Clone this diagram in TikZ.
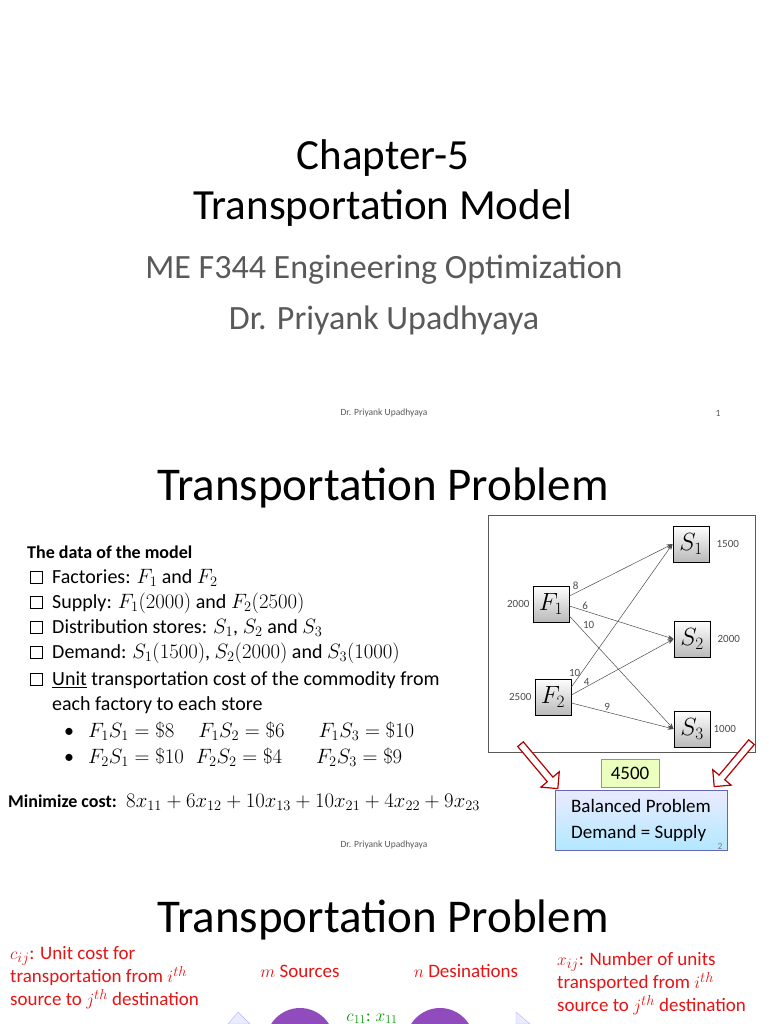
\documentclass[tikz,border=0pt]{standalone}
\usepackage{fontspec}
\setmainfont{Carlito}
\usetikzlibrary{arrows.meta,shapes.arrows,positioning}
\definecolor{sub}{RGB}{89,89,89}
\definecolor{redt}{RGB}{230,20,20}
\tikzset{
 px/.style={x=1pt,y=-1pt},
 gbox/.style={draw=black,thick,top color=white,bottom color=gray!55,minimum width=36pt,minimum height=36pt,inner sep=0pt,font=\fontsize{24}{24}\selectfont},
 foot/.style={font=\fontsize{9.5}{10}\selectfont,text=sub},
 edge/.style={draw=gray!60!black,-{Stealth[length=6pt]},line width=0.5pt},
 cost/.style={font=\fontsize{11}{12}\selectfont\rmfamily,text=gray!60!black,inner sep=1pt},
 hollow/.style={single arrow,draw=red!70!black,fill=white,line width=1.2pt,minimum height=58pt,minimum width=24pt,single arrow head extend=6pt,inner sep=2pt},
 bl/.style={font=\fontsize{20}{22}\selectfont,anchor=west,inner sep=0pt},
 redtxt/.style={text=redt,font=\fontsize{19}{23}\selectfont,align=left,inner sep=0pt}
}
\begin{document}
\begin{tikzpicture}[px]
\useasboundingbox (0,0) rectangle (768,1024);
\fill[white] (0,0) rectangle (768,1024);
% slide 1
\node (t1) at (383,158) {\fontsize{43}{46}\selectfont Chapter-5};
\node (t2) at (383,208) {\fontsize{43}{46}\selectfont Transportation Model};
\node[text=sub] (t3) at (384,270) {\fontsize{34}{36}\selectfont ME F344 Engineering Optimization};
\node[text=sub] (t4) at (384,320) {\fontsize{34}{36}\selectfont Dr. Priyank Upadhyaya};
\node[foot] (f1) at (384,413) {Dr. Priyank Upadhyaya};
\node[foot] (n1) at (718,413) {1};
% slide 2
\node (t5) at (383,488) {\fontsize{47}{50}\selectfont Transportation Problem};
\node[bl,font=\fontsize{18}{20}\selectfont\bfseries] (d0) at (27,552) {The data of the model};
\foreach \y/\t in {578/{Factories: $F_1$ and $F_2$},
  603/{Supply: $F_1(2000)$ and $F_2(2500)$},
  628/{Distribution stores: $S_1$, $S_2$ and $S_3$},
  653/{Demand: $S_1(1500)$, $S_2(2000)$ and $S_3(1000)$},
  680/{\underline{Unit} transportation cost of the commodity from}}{
  \draw[line width=0.9pt] (30,\y-7) rectangle (42,\y+5);
  \node[bl] at (52,\y) {\t};
}
\node[bl] (d6) at (52,705) {each factory to each store};
\node[bl] (b1) at (64,731) {•\hspace{14pt}$F_1S_1=\$8$\hspace{24pt}$F_1S_2=\$6$\hspace{34pt}$F_1S_3=\$10$};
\node[bl] (b2) at (64,757) {•\hspace{14pt}$F_2S_1=\$10$\hspace{12pt}$F_2S_2=\$4$\hspace{34pt}$F_2S_3=\$9$};
\node[bl] (mc) at (8,802) {\fontsize{18}{20}\selectfont\textbf{Minimize cost:} \ \fontsize{20}{22}\selectfont$8x_{11}+6x_{12}+10x_{13}+10x_{21}+4x_{22}+9x_{23}$};
\node[foot] (f2) at (384,845) {Dr. Priyank Upadhyaya};
% graph
\draw[gray!70!black,line width=0.8pt] (488,515) rectangle (755,752);
\node[gbox] (F1) at (551,604) {$F_1$};
\node[gbox] (F2) at (553,697) {$F_2$};
\node[gbox] (S1) at (691,544) {$S_1$};
\node[gbox] (S2) at (692,639) {$S_2$};
\node[gbox] (S3) at (692,729) {$S_3$};
\node[cost,left=2pt of F1] (sF1) {2000};
\node[cost,left=2pt of F2] (sF2) {2500};
\node[cost,right=6pt of S1] (dS1) {1500};
\node[cost,right=6pt of S2] (dS2) {2000};
\node[cost,right=2pt of S3] (dS3) {1000};
\draw[edge] (F1.east) ++(0,-8) -- node[cost,above left,pos=0.1] {8} (S1.west);
\draw[edge] (F1.east) ++(0,2) -- node[cost,above,pos=0.15] {6} (S2.west);
\draw[edge] (F1.east) ++(0,12) -- node[cost,above right,pos=0.12] {10} (S3.west);
\draw[edge] (F2.east) ++(0,-10) -- node[cost,left,pos=0.1] {10} (S1.west);
\draw[edge] (F2.east) ++(0,-2) -- node[cost,above,pos=0.15] {4} (S2.west);
\draw[edge] (F2.east) ++(0,6) -- node[cost,above,pos=0.35] {9} (S3.west);
\node[hollow,rotate=-50] (a1) at (538,765) {};
\node[hollow,rotate=-130] (a2) at (734,763) {};
\node[draw=green!50!black!60,fill=green!30!yellow!25,minimum width=58pt,minimum height=28pt,font=\fontsize{19}{20}\selectfont] (g) at (630,773) {4500};
\node[draw=blue!50!black!60,top color=blue!8,bottom color=blue!30!cyan!30,minimum width=172pt,minimum height=60pt,align=left,font=\fontsize{19}{26}\selectfont] (bal) at (641,820) {Balanced Problem\\Demand = Supply};
\node[foot,text=gray] (n2) at (720,846) {2};
% slide 3
\node (t6) at (383,920) {\fontsize{47}{50}\selectfont Transportation Problem};
\node[redtxt,anchor=north west] (c1) at (10,946) {$c_{ij}$: Unit cost for\\transportation from $i^{th}$\\source to $j^{th}$ destination};
\node[redtxt] (ms) at (300,971) {$m$ Sources};
\node[redtxt] (nd) at (466,971) {$n$ Desinations};
\node[redtxt,anchor=north west] (c2) at (557,952) {$x_{ij}$: Number of units\\transported from $i^{th}$\\source to $j^{th}$ destination};
\fill[violet!75!blue!70] (300,1042) circle (34pt);
\fill[violet!75!blue!70] (440,1042) circle (34pt);
\node[text=green!60!black,font=\fontsize{17}{18}\selectfont,anchor=north] (cx) at (372,1010) {$c_{11}$: $x_{11}$};
\draw[blue!30,fill=blue!8] (238,1012) -- (250,1024) -- (228,1024) -- cycle;
\draw[blue!30,fill=blue!8] (516,1012) -- (530,1024) -- (516,1024) -- cycle;
\end{tikzpicture}
\end{document}
